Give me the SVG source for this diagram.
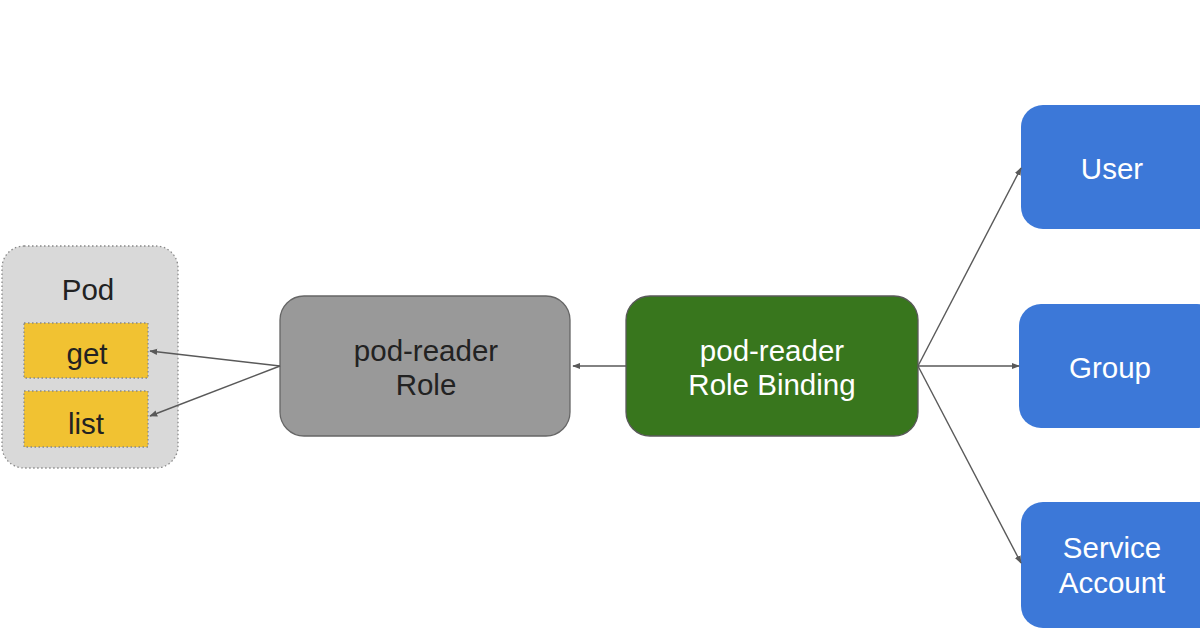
<svg xmlns="http://www.w3.org/2000/svg" width="1200" height="628" viewBox="0 0 1200 628">
<style>
text{font-family:"Liberation Sans",Arial,sans-serif;font-size:29.5px;text-anchor:middle}
.dark{fill:#222}
.light{fill:#fff}
.conn{stroke:#595959;stroke-width:1.4;fill:none;marker-end:url(#arr)}
.blue{fill:#3c78d8}
.dot{stroke:#888;stroke-width:1.3;stroke-dasharray:1.5 2.5}
</style>
<defs>
<marker id="arr" viewBox="0 0 10 10" refX="9" refY="5" markerWidth="8" markerHeight="8" markerUnits="userSpaceOnUse" orient="auto">
<path d="M0,1 L10,5 L0,9 Z" fill="#595959"/>
</marker>
</defs>
<rect width="1200" height="628" fill="#fff"/>
<g id="pod">
<rect x="2" y="246" width="176" height="222" rx="22" fill="#d9d9d9" class="dot"/>
<text x="88" y="300" class="dark">Pod</text>
</g>
<g id="get">
<rect x="24" y="323" width="124" height="55" fill="#f1c232" class="dot"/>
<text x="87" y="364" class="dark">get</text>
</g>
<g id="list">
<rect x="24" y="391" width="124" height="56" fill="#f1c232" class="dot"/>
<text x="86" y="434" class="dark">list</text>
</g>
<g id="role">
<rect x="280" y="296" width="290" height="140" rx="24" fill="#999999" stroke="#666" stroke-width="1.3"/>
<text x="426" y="361" class="dark">pod-reader</text>
<text x="426" y="395" class="dark">Role</text>
</g>
<g id="rolebinding">
<rect x="626" y="296" width="292" height="140" rx="24" fill="#38761d" stroke="#595959" stroke-width="1.3"/>
<text x="772" y="361" class="light">pod-reader</text>
<text x="772" y="395" class="light">Role Binding</text>
</g>
<g id="user">
<rect x="1021" y="105" width="200" height="124" rx="22" class="blue"/>
<text x="1112" y="179" class="light">User</text>
</g>
<g id="group">
<rect x="1019" y="304" width="200" height="124" rx="22" class="blue"/>
<text x="1110" y="378" class="light">Group</text>
</g>
<g id="serviceaccount">
<rect x="1021" y="502" width="200" height="126" rx="22" class="blue"/>
<text x="1112" y="558" class="light">Service</text>
<text x="1112" y="593" class="light">Account</text>
</g>
<g id="connectors">
<line x1="280" y1="366" x2="150" y2="351" class="conn"/>
<line x1="280" y1="366" x2="150" y2="416" class="conn"/>
<line x1="626" y1="366" x2="573" y2="366" class="conn"/>
<line x1="918" y1="366" x2="1021" y2="168" class="conn"/>
<line x1="918" y1="366" x2="1019" y2="366" class="conn"/>
<line x1="918" y1="366" x2="1021" y2="563" class="conn"/>
</g>
</svg>
